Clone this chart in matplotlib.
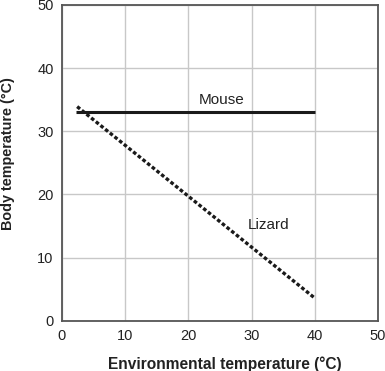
import matplotlib.pyplot as plt

plt.rcParams['font.family'] = ['Liberation Sans', 'DejaVu Sans']

# data
mouse_x = [2.2, 40]
mouse_y = [33, 33]
lizard_x = [2.4, 40]
lizard_y = [33.9, 3.6]

fig = plt.figure(figsize=(3.85, 3.71), dpi=100)
ax = fig.add_axes([0.161, 0.135, 0.821, 0.852])

ax.plot(mouse_x, mouse_y, color='#1a1a1a', lw=2.2, solid_capstyle='butt')
ax.plot(lizard_x, lizard_y, color='#1a1a1a', lw=2.4, linestyle=(0, (1.1, 0.7)),
        dash_capstyle='butt')

ax.text(25.3, 35, 'Mouse', fontsize=11, ha='center', va='center', color='#222222')
ax.text(32.6, 15.2, 'Lizard', fontsize=11, ha='center', va='center', color='#222222')

ax.set_xlim(0, 50)
ax.set_ylim(0, 50)
ax.set_xticks(range(0, 51, 10))
ax.set_yticks(range(0, 51, 10))
ax.grid(True, color='#c8c8c8', lw=1)
ax.set_axisbelow(True)
ax.tick_params(length=0, labelsize=10.5, colors='#222222', pad=6)
for s in ax.spines.values():
    s.set_color('#555555')
    s.set_linewidth(1.3)

ax.set_xlabel('Environmental temperature (°C)', fontsize=11.2, fontweight='bold',
              color='#222222')
ax.set_ylabel('Body temperature (°C)', fontsize=10.4, fontweight='bold',
              color='#222222')
ax.xaxis.set_label_coords(0.516, -0.112)
ax.yaxis.set_label_coords(-0.149, 0.528)

fig.savefig('out.png', dpi=100)
